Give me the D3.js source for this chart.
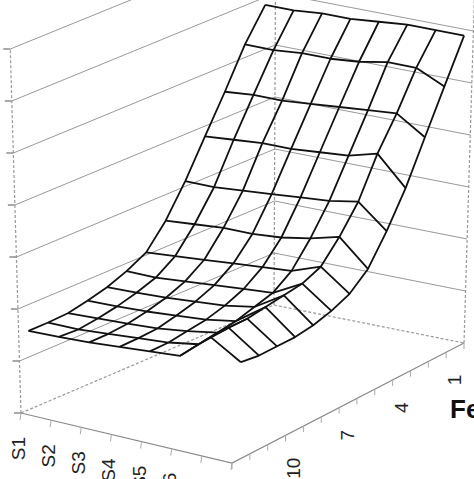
<!DOCTYPE html>
<html><head><meta charset="utf-8">
<script src="https://cdn.jsdelivr.net/npm/d3@7"></script>
<style>body{margin:0;background:#fff}svg{display:block}</style>
</head><body>
<svg id="c" width="474" height="479"></svg>
<script>
const seriesNames = ["S1","S2","S3","S4","S5","S6","S7","S8"];
const categories = [1,2,3,4,5,6,7,8,9,10,11,12,13];
const categoryLabels = ["1","4","7","10","13"];
const zTicks = [0,1,2,3,4,5,6,7];
const S1 = [5.85,5.25,4.5,3.8,3.1,2.5,2.05,1.85,1.7,1.6,1.52,1.5,1.5];
const S2 = [5.85,5.25,4.55,3.85,3.1,2.55,2.1,1.85,1.72,1.62,1.55,1.5,1.52];
const S3 = [5.9,5.3,4.55,3.9,3.15,2.6,2.15,1.9,1.75,1.65,1.58,1.55,1.55];
const S4 = [5.9,5.3,4.6,3.9,3.2,2.6,2.2,1.95,1.8,1.7,1.62,1.6,1.6];
const S5 = [5.95,5.35,4.65,3.95,3.25,2.65,2.25,2.0,1.85,1.75,1.7,1.65,1.65];
const S6 = [6.0,5.45,4.7,4.0,3.3,2.75,2.3,2.05,1.95,1.85,1.8,1.75,1.7];
const S7 = [6.0,5.45,4.75,4.15,3.4,2.9,2.5,2.35,2.3,2.25,2.2,2.2,2.2];
const S8 = [6.0,5.2,4.4,3.6,2.95,2.4,2.1,1.95,1.85,1.8,1.8,1.8,1.85];
const values = [S1,S2,S3,S4,S5,S6,S7,S8];

const svg = d3.select("#c");
const sScale = d3.scaleLinear().domain([0, seriesNames.length-1]).range([0,1]);
const cScale = d3.scaleBand().domain(categories.slice().reverse()).range([0,1]);
const zScale = d3.scaleLinear().domain([0,7]).range([0,364]);
const L=[21,413],F=[232,463],R=[464,343],B=[274,305];
function P(s,c,z){
  let x=(1-s)*(1-c)*L[0]+s*(1-c)*F[0]+s*c*R[0]+(1-s)*c*B[0];
  let y=(1-s)*(1-c)*L[1]+s*(1-c)*F[1]+s*c*R[1]+(1-s)*c*B[1];
  const h=zScale(z);
  x += (x-240)*0.007*(h/52);
  return [x, y-h];
}
const line=d3.line();
const grey="#8a8a8a";
zTicks.slice(1).forEach(z=>{
  svg.append("path").attr("d",line([P(0,0,z),P(0,1,z),P(1,1,z)])).attr("fill","none").attr("stroke","#999").attr("stroke-width",1);
});
zTicks.forEach(z=>{
  const p=P(0,0,z);
  svg.append("line").attr("x1",p[0]-7).attr("x2",p[0]).attr("y1",p[1]).attr("y2",p[1]).attr("stroke","#555");
});
const dash=(pts)=>svg.append("path").attr("d",line(pts)).attr("fill","none").attr("stroke","#999").attr("stroke-width",1.2).attr("stroke-dasharray","3,2");
dash([P(0,0,0),P(0,1,0),P(1,1,0)]);
dash([P(0,0,0),P(0,0,7)]);dash([P(0,1,0),P(0,1,7)]);dash([P(1,1,0),P(1,1,7)]);
svg.append("path").attr("d",line([P(0,0,0),P(1,0,0),P(1,1,0)])).attr("fill","none").attr("stroke",grey).attr("stroke-width",1.2);
seriesNames.forEach((n,i)=>{
  const p=P(sScale(i),0,0);
  svg.append("line").attr("x1",p[0]).attr("y1",p[1]).attr("x2",p[0]-1).attr("y2",p[1]+7).attr("stroke","#aaa");
  svg.append("text").attr("transform",`translate(${p[0]+4},${p[1]+24}) rotate(-90)`).attr("text-anchor","end")
    .attr("font-family","Liberation Sans, Arial").attr("font-size",19).attr("fill","#222").text(n);
});
d3.range(categories.length+1).forEach(m=>{
  const p=P(1,m/categories.length,0);
  svg.append("line").attr("x1",p[0]).attr("y1",p[1]).attr("x2",p[0]).attr("y2",p[1]+6).attr("stroke","#aaa");
});
categoryLabels.forEach(l=>{
  const c=cScale(+l)+cScale.bandwidth()/2;
  const p=P(1,c,0);
  svg.append("text").attr("transform",`translate(${p[0]+6},${p[1]+27}) rotate(-90)`).attr("text-anchor","end")
    .attr("font-family","Liberation Sans, Arial").attr("font-size",19).attr("fill","#222").text(l);
});
svg.append("text").attr("x",450).attr("y",418).attr("font-family","Liberation Sans, Arial").attr("font-weight","bold").attr("font-size",26).attr("fill","#111").text("Fe");
const cPos=k=>cScale(categories[k])+cScale.bandwidth()/2;
values.forEach((row,i)=>{
  svg.append("path").attr("d",line(row.map((v,k)=>P(sScale(i),cPos(k),v)))).attr("fill","none").attr("stroke","#111").attr("stroke-width",1.8).attr("stroke-linejoin","round");
});
categories.forEach((cat,k)=>{
  svg.append("path").attr("d",line(values.map((row,i)=>P(sScale(i),cPos(k),row[k])))).attr("fill","none").attr("stroke","#111").attr("stroke-width",1.8).attr("stroke-linejoin","round");
});
</script>
</body></html>
